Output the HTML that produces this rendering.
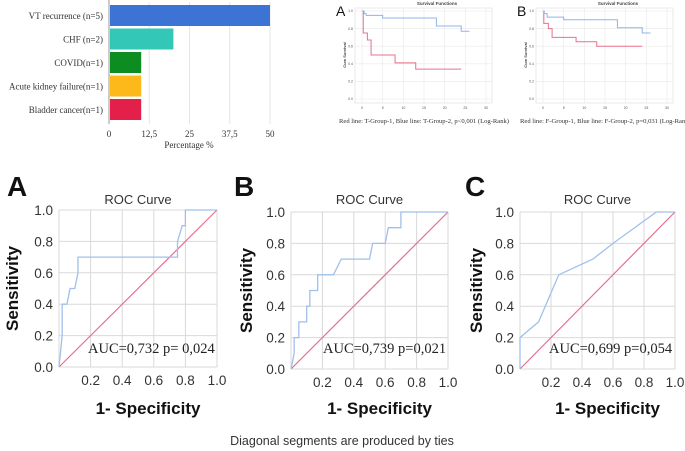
<!DOCTYPE html>
<html><head><meta charset="utf-8"><style>
body{margin:0;background:#fff}
svg{display:block}
.sf{font-family:"Liberation Serif",serif}
.ss{font-family:"Liberation Sans",sans-serif}
</style></head><body>
<svg id="fig" width="685" height="451" viewBox="0 0 685 451" xmlns="http://www.w3.org/2000/svg">
<g id="bar"></g>
<g id="survA"></g>
<g id="survB"></g>
<g id="rocA"></g>
<g id="rocB"></g>
<g id="rocC"></g>
<text class="ss" x="342" y="445" font-size="12.5" text-anchor="middle" fill="#333">Diagonal segments are produced by ties</text>
</svg>
<script>
// ---- bar chart data ----
const barCategories = ["VT recurrence (n=5)","CHF (n=2)","COVID(n=1)","Acute kidney failure(n=1)","Bladder cancer(n=1)"];
const barValues = [50,20,10,10,10];
const barColors = ["#3c73d4","#33c7b8","#0d8c22","#fdb91a","#e3204a"];
const barTicks = [0,12.5,25,37.5,50];
const barTickLabels = ["0","12,5","25","37,5","50"];

// ---- survival data [time, survival] ----
const survARed = [[0,1],[0.3,0.75],[1.3,0.67],[2.2,0.5],[8,0.41],[13,0.34],[24,0.34]];
const survABlue = [[0,1],[0.5,0.97],[1,0.95],[5,0.92],[18,0.83],[24,0.77],[26,0.77]];
const survBRed = [[0,1],[0.2,0.86],[1.3,0.8],[2.2,0.7],[8,0.65],[13,0.6],[24,0.6]];
const survBBlue = [[0,1],[0.3,0.97],[1,0.93],[5,0.9],[18,0.81],[24,0.75],[26,0.75]];
const survXTicks = [0,5,10,15,20,25,30];
const survYTicks = [0,0.2,0.4,0.6,0.8,1.0];

// ---- ROC data [1-spec, sens] ----
const rocA = [[0,0],[0.02,0.2],[0.02,0.4],[0.05,0.4],[0.07,0.5],[0.1,0.5],[0.12,0.6],[0.12,0.7],[0.75,0.7],[0.75,0.8],[0.78,0.9],[0.8,0.9],[0.8,1],[1,1]];
const rocB = [[0,0],[0.02,0.1],[0.02,0.2],[0.05,0.2],[0.05,0.3],[0.1,0.3],[0.1,0.4],[0.12,0.4],[0.12,0.5],[0.17,0.5],[0.17,0.6],[0.27,0.6],[0.32,0.7],[0.5,0.7],[0.52,0.8],[0.6,0.8],[0.62,0.9],[0.7,0.9],[0.7,1],[1,1]];
const rocC = [[0,0],[0,0.2],[0.12,0.3],[0.25,0.6],[0.47,0.7],[0.6,0.8],[0.88,1],[1,1]];
const rocTicks = [0,0.2,0.4,0.6,0.8,1.0];

const NS="http://www.w3.org/2000/svg";
function mk(p,tag,at,txt){const e=document.createElementNS(NS,tag);for(const k in at)e.setAttribute(k,at[k]);if(txt!==undefined)e.textContent=txt;p.appendChild(e);return e;}

// bar chart
(function(){
  const g=document.getElementById('bar');
  const x0=109,x1=270; const sx=v=>x0+(x1-x0)*v/50;
  const rowY=[5,28.5,52,75.5,99], bh=21;
  barTicks.forEach((t,i)=>{
    if(i>0){const l=mk(g,'line',{x1:sx(t),x2:sx(t),y1:2,y2:124,stroke:'#e6e6e6','stroke-width':1});
    
    }
    const tl=mk(g,'text',{x:sx(t),y:137,'font-size':9,'text-anchor':'middle',class:'sf',fill:'#333'},barTickLabels[i]);
    
    
  });
  barCategories.forEach((c,i)=>{
    const r=mk(g,'rect',{x:x0+1,y:rowY[i],width:sx(barValues[i])-x0-1,height:bh,fill:barColors[i]});
    
    
    const t=mk(g,'text',{x:103,y:rowY[i]+bh/2+3.5,'font-size':9,'text-anchor':'end',class:'sf',fill:'#333'},c);
    
    
  });
  const ax=mk(g,'line',{x1:x0,x2:x0,y1:0,y2:124,stroke:'#999','stroke-width':1});
  
  
  const xt=mk(g,'text',{x:189,y:148,'font-size':9,'text-anchor':'middle',class:'sf',fill:'#333'},'Percentage %');
  
  
})();

// survival plots
function surv(id,letter,ox,red,blue,caption){
  const g=document.getElementById(id);
  const px0=ox-7,px1=ox+130,py0=8,py1=103;
  const sx=v=>ox+(124)*v/30, sy=v=>99-88*v;
  mk(g,'rect',{x:px0,y:py0,width:px1-px0,height:py1-py0,fill:'#fff',stroke:'#ddd','stroke-width':0.6});
  survXTicks.forEach(t=>{
    const l=mk(g,'line',{x1:sx(t),x2:sx(t),y1:py0,y2:py1,stroke:'#e8e8e8','stroke-width':0.6});
    
    
    const tl=mk(g,'text',{x:sx(t),y:109,'font-size':3.5,'text-anchor':'middle',class:'ss',fill:'#555'},String(t));
    
    
  });
  survYTicks.forEach(t=>{
    const l=mk(g,'line',{x1:px0,x2:px1,y1:sy(t),y2:sy(t),stroke:'#e8e8e8','stroke-width':0.6});
    
    
    const tl=mk(g,'text',{x:px0-2,y:sy(t)+1.2,'font-size':3.5,'text-anchor':'end',class:'ss',fill:'#555'},t.toFixed(1));
    
    
  });
  function step(d,col,nm){
    let p='M'+sx(d[0][0])+','+sy(d[0][1]);
    for(let i=1;i<d.length;i++){p+=' H'+sx(d[i][0])+' V'+sy(d[i][1]);}
    const e=mk(g,'path',{d:p,fill:'none',stroke:col,'stroke-width':1});
    
    
  }
  step(red,'#e8708c','survival-red-line');
  step(blue,'#8fb3ea','survival-blue-line');
  const L=mk(g,'text',{x:ox-26,y:16,'font-size':14,class:'ss',fill:'#111'},letter);
  
  
  const T=mk(g,'text',{x:ox+75,y:5,'font-size':4.5,'font-weight':'bold','text-anchor':'middle',class:'ss',fill:'#444'},'Survival Functions');
  
  
  const Y=mk(g,'text',{transform:`translate(${ox-16},55) rotate(-90)`,'font-size':4,'font-weight':'bold','text-anchor':'middle',class:'ss',fill:'#444'},'Cum Survival');
  
  
  const C=mk(g,'text',{x:ox-23,y:123,'font-size':6.6,class:'sf',fill:'#333'},caption);
  
  
}
surv('survA','A',362,survARed,survABlue,'Red line: T-Group-1, Blue line: T-Group-2, p<0,001 (Log-Rank)');
surv('survB','B',543,survBRed,survBBlue,'Red line: F-Group-1, Blue line: F-Group-2, p=0,031 (Log-Rank)');

// ROC panels
function roc(id,letter,x0,x1,y0,y1,data,auc,ax,ay,lx,sxLab){
  const g=document.getElementById(id);
  const sx=v=>x0+(x1-x0)*v, sy=v=>y1-(y1-y0)*v;
  rocTicks.forEach(t=>{
    const v=mk(g,'line',{x1:sx(t),x2:sx(t),y1:y0,y2:y1,stroke:'#d9d9d9','stroke-width':1});
    
    
    const h=mk(g,'line',{x1:x0,x2:x1,y1:sy(t),y2:sy(t),stroke:'#d9d9d9','stroke-width':1});
    
    
    const yl=mk(g,'text',{x:x0-6,y:sy(t)+5,'font-size':13.5,'text-anchor':'end',class:'ss',fill:'#333'},t.toFixed(1));
    
    
    if(t>0){const xl=mk(g,'text',{x:sx(t),y:y1+18,'font-size':13.5,'text-anchor':'middle',class:'ss',fill:'#333'},t.toFixed(1));
    
    }
  });
  const d=mk(g,'line',{x1:sx(0),y1:sy(0),x2:sx(1),y2:sy(1),stroke:'#e66f8c','stroke-width':1.2});
  
  
  const p=mk(g,'polyline',{points:data.map(q=>sx(q[0])+','+sy(q[1])).join(' '),fill:'none',stroke:'#9fc0ee','stroke-width':1.3});
  
  
  const L=mk(g,'text',{x:lx,y:196,'font-size':28,'font-weight':'bold',class:'ss',fill:'#111'},letter);
  
  
  const T=mk(g,'text',{x:(x0+x1)/2,y:204,'font-size':13,'text-anchor':'middle',class:'ss',fill:'#333'},'ROC Curve');
  
  
  const A=mk(g,'text',{x:ax,y:ay,'font-size':14.5,class:'sf',fill:'#222'},auc);
  
  
  const Y=mk(g,'text',{transform:`translate(${sxLab},${(y0+y1)/2}) rotate(-90)`,'font-size':17,'font-weight':'bold','text-anchor':'middle',class:'ss',fill:'#111'},'Sensitivity');
  
  
  const X=mk(g,'text',{x:(x0+x1)/2+10,y:414,'font-size':17,'font-weight':'bold','text-anchor':'middle',class:'ss',fill:'#111'},'1- Specificity');
  
  
}
roc('rocA','A',59,217,210,367,rocA,'AUC=0,732 p= 0,024',88,353,7,18);
roc('rocB','B',291,448,212,369,rocB,'AUC=0,739 p=0,021',323,353,234,252);
roc('rocC','C',520,675,212,369,rocC,'AUC=0,699  p=0,054',549,353,465,482);
</script>
</body></html>
